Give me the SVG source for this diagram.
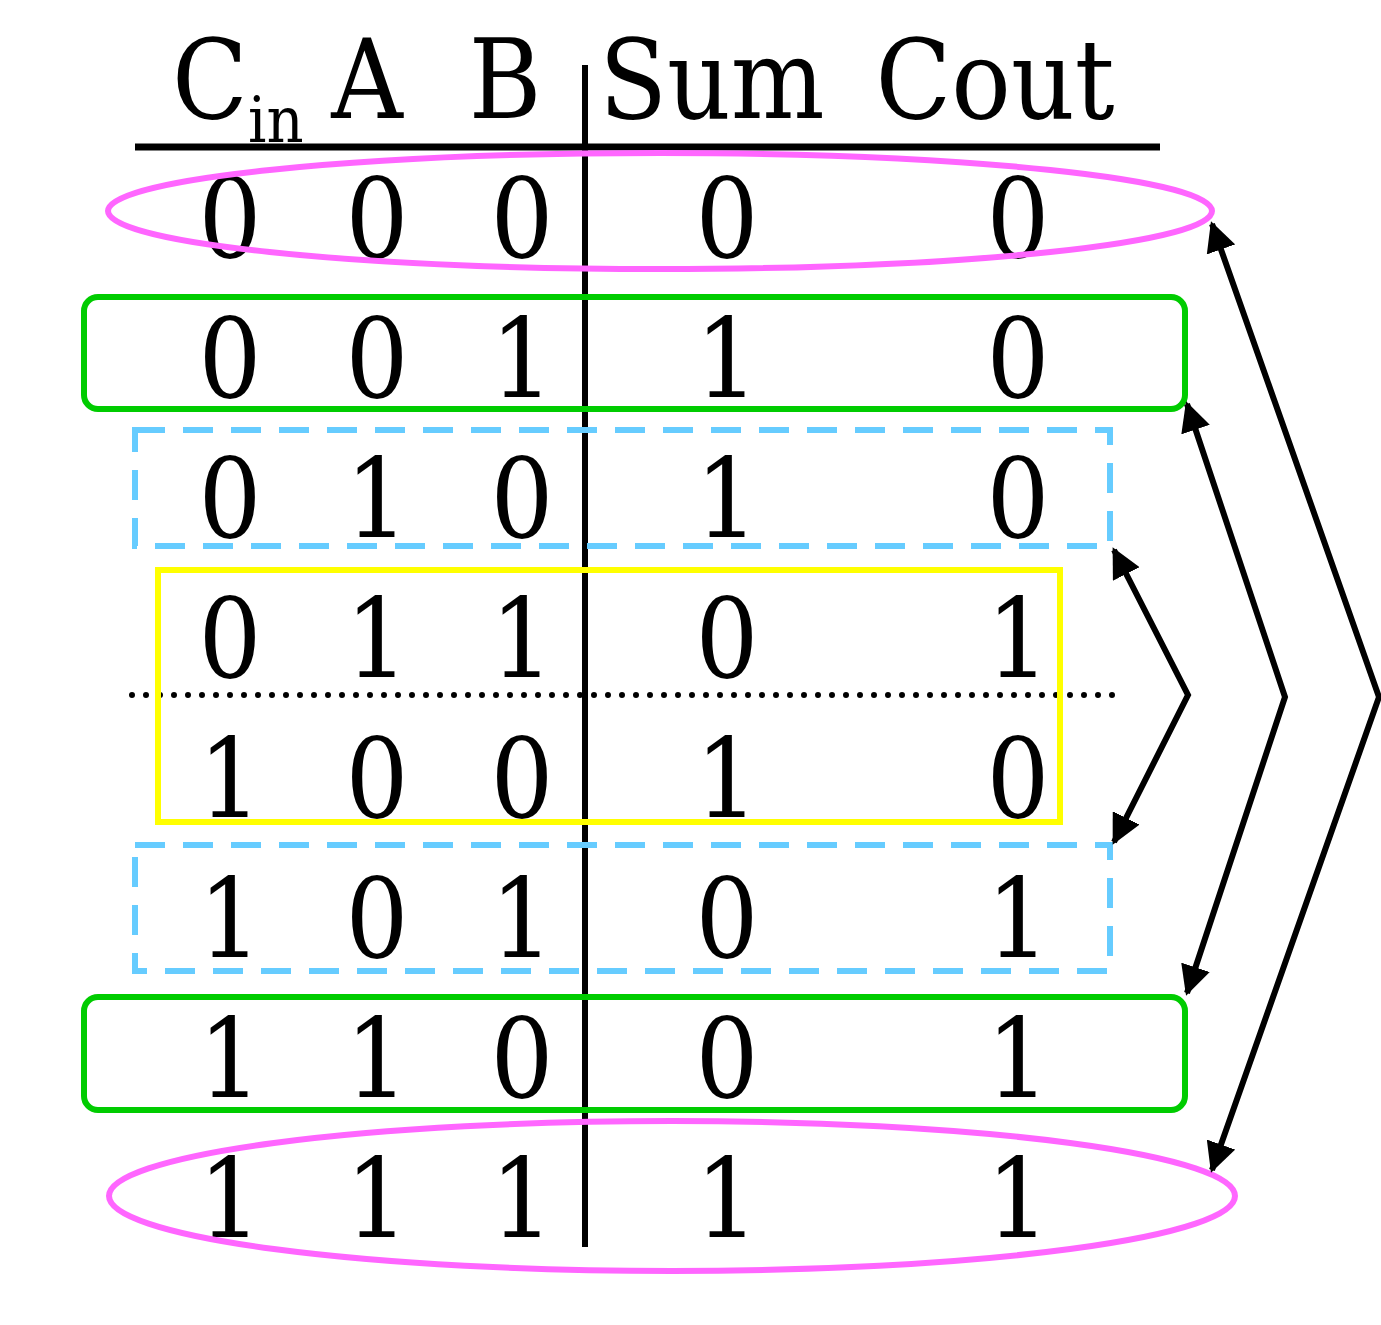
<svg xmlns="http://www.w3.org/2000/svg" width="1381" height="1325" viewBox="0 0 1381 1325">
<defs>
<style>
text{font-family:"DejaVu Serif Condensed","DejaVu Serif",serif;font-stretch:condensed;font-size:110px;fill:#000;text-anchor:middle}
.h{text-anchor:start}
.arr{fill:none;stroke:#000;stroke-width:6;marker-start:url(#ah);marker-end:url(#ah)}
</style>
<marker id="ah" viewBox="0 0 10 10" refX="9" refY="5" markerWidth="5" markerHeight="5" orient="auto-start-reverse"><path d="M0,0L10,5L0,10z" fill="#000"/></marker>
</defs>
<g id="header">
<text class="h" x="172" y="118">C</text>
<text class="h" x="248" y="142" font-size="64px" style="font-size:64px">in</text>
<text x="367" y="118">A</text>
<text x="505" y="118">B</text>
<text x="712" y="118">Sum</text>
<text x="995" y="118">Cout</text>
</g>
<g id="table" stroke="#000">
<line x1="135" y1="147" x2="1160" y2="147" stroke-width="7"/>
<line x1="585" y1="65" x2="585" y2="1247" stroke-width="6"/>
<line x1="132" y1="695" x2="1115" y2="695" stroke-width="6" stroke-dasharray="0 14" stroke-linecap="round"/>
</g>
<g id="rows">
<text x="230" y="257">0</text><text x="377" y="257">0</text><text x="522" y="257">0</text><text x="727" y="257">0</text><text x="1018" y="257">0</text>
<text x="230" y="397">0</text><text x="377" y="397">0</text><text x="522" y="397">1</text><text x="727" y="397">1</text><text x="1018" y="397">0</text>
<text x="230" y="537">0</text><text x="377" y="537">1</text><text x="522" y="537">0</text><text x="727" y="537">1</text><text x="1018" y="537">0</text>
<text x="230" y="677">0</text><text x="377" y="677">1</text><text x="522" y="677">1</text><text x="727" y="677">0</text><text x="1018" y="677">1</text>
<text x="230" y="817">1</text><text x="377" y="817">0</text><text x="522" y="817">0</text><text x="727" y="817">1</text><text x="1018" y="817">0</text>
<text x="230" y="957">1</text><text x="377" y="957">0</text><text x="522" y="957">1</text><text x="727" y="957">0</text><text x="1018" y="957">1</text>
<text x="230" y="1097">1</text><text x="377" y="1097">1</text><text x="522" y="1097">0</text><text x="727" y="1097">0</text><text x="1018" y="1097">1</text>
<text x="230" y="1237">1</text><text x="377" y="1237">1</text><text x="522" y="1237">1</text><text x="727" y="1237">1</text><text x="1018" y="1237">1</text>
</g>
<g id="groups" fill="none" stroke-width="6">
<ellipse cx="660" cy="211" rx="552" ry="58" stroke="#ff66ff"/>
<ellipse cx="672" cy="1196" rx="563" ry="75" stroke="#ff66ff"/>
<rect x="84" y="297" width="1101" height="112" rx="14" stroke="#00cc00"/>
<rect x="84" y="997" width="1101" height="113" rx="14" stroke="#00cc00"/>
<rect x="135" y="430" width="975" height="116" stroke="#66ccff" stroke-dasharray="30 18"/>
<rect x="135" y="845" width="975" height="126" stroke="#66ccff" stroke-dasharray="30 18"/>
<rect x="158" y="570" width="902" height="252" stroke="#ffff00"/>
</g>
<g id="connectors">
<polyline class="arr" points="1114,550 1188,695 1114,842"/>
<polyline class="arr" points="1187,404 1285,697 1187,993"/>
<polyline class="arr" points="1212,224 1379,697 1212,1170"/>
</g>
</svg>
